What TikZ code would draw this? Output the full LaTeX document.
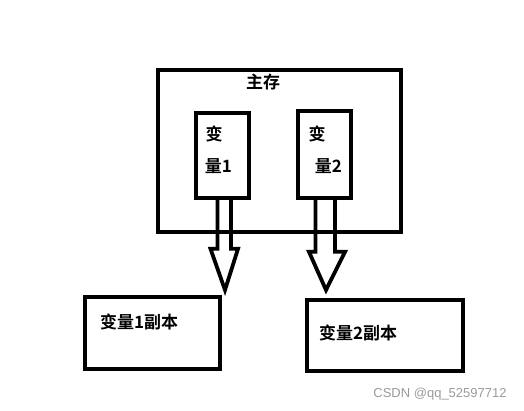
\documentclass[tikz,border=0pt]{standalone}
\usepackage{fontspec}
\newfontfamily\cjk{Noto Sans CJK SC}[BoldFont={* Bold}]
\setmainfont{Liberation Sans}
\usetikzlibrary{calc}
\definecolor{wmgray}{RGB}{155,155,155}
\begin{document}
\begin{tikzpicture}[x=1pt,y=-1pt,
  frame/.style={draw=black,line width=#1,inner sep=0pt,fill=none},
  lbl/.style={font=\cjk\bfseries\fontsize{17}{17}\selectfont,inner sep=0pt},
  hollow/.style={draw=black,line width=3.8pt,line join=miter}]
\useasboundingbox (0,0) rectangle (524,411);
% main memory
\node[frame=4pt,minimum width=243pt,minimum height=162pt] (mem) at (279.5,151) {};
\node[lbl] (memt) at (263,82) {主存};
% variables
\node[frame=3.6pt,minimum width=53pt,minimum height=85pt] (v1) at (222.5,155.5) {};
\node[lbl] (v1a) at (214,133.5) {变};
\node[lbl] (v1b) at (218.5,166) {量1};
\node[frame=3.6pt,minimum width=53pt,minimum height=87pt] (v2) at (324.5,154.5) {};
\node[lbl] (v2a) at (317,134) {变};
\node[lbl] (v2b) at (328.5,166) {量2};
% copies
\node[frame=4.6pt,minimum width=135pt,minimum height=72pt] (c1) at (152.5,333) {};
\node[lbl,anchor=west] (c1t) at (100,322) {变量1副本};
\node[frame=4.6pt,minimum width=156pt,minimum height=71pt] (c2) at (385,335.5) {};
\node[lbl,anchor=west] (c2t) at (319,332.5) {变量2副本};
% hollow arrows
\coordinate (t1) at (225,290);
\coordinate (t2) at (326,290);
\draw[hollow] ($(v1.south)+(-5,0)$) -- ++(0,49) -- ++(-7,0) -- (t1)
  -- ($(v1.south)+(15.5,49)$) -- ++(-7,0) -- ($(v1.south)+(8.5,0)$);
\draw[hollow] ($(v2.south)+(-9,0)$) -- ++(0,52) -- ++(-6.5,0) -- (t2)
  -- ($(v2.south)+(20.5,52)$) -- ++(-10,0) -- ($(v2.south)+(10.5,0)$);
% watermark
\node[text=wmgray,font=\fontsize{13}{13}\selectfont,inner sep=0pt] (wm) at (440,394) {CSDN @qq\_52597712};
\end{tikzpicture}
\end{document}
